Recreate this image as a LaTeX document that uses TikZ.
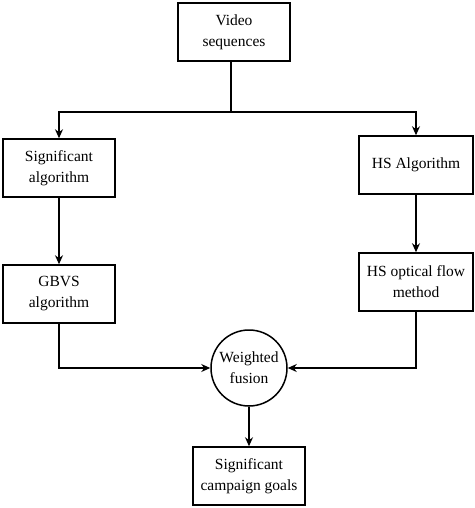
\documentclass[tikz,border=0pt]{standalone}
\usepackage{fontspec}
\setmainfont{Liberation Serif}
\usetikzlibrary{arrows.meta}
\begin{document}
\begin{tikzpicture}[x=1pt,y=-1pt,
  box/.style={draw, line width=1.5pt, minimum width=112pt, minimum height=58pt, inner sep=2pt, align=center, font=\fontsize{15.5}{21}\selectfont},
  circ/.style={draw, circle, line width=1.5pt, minimum size=76pt, inner sep=0pt, align=center, font=\fontsize{15.5}{21}\selectfont},
  conn/.style={line width=1.4pt},
  arr/.style={conn, -{Stealth[length=9pt,width=8pt]}}]
\useasboundingbox (0,0) rectangle (474,508);
\node[box] (video) at (234,32) {Video\\sequences};
\node[box] (sig) at (59,168) {Significant\\algorithm};
\node[box, minimum width=114pt] (hs) at (416,165) {HS Algorithm};
\node[box] (gbvs) at (59,294) {GBVS\\algorithm};
\node[box, minimum width=114pt] (hsof) at (416,282) {HS optical flow\\method};
\node[circ] (wf) at (249,368) {Weighted\\fusion};
\node[box] (goal) at (249,476) {Significant\\campaign goals};
\coordinate (split) at (231,112);
\draw[conn] (video.south -| split) -- (split);
\draw[arr] (split) -| (sig.north);
\draw[arr] (split) -| (hs.north);
\draw[arr] (sig) -- (gbvs);
\draw[arr] (hs) -- (hsof);
\draw[arr] (gbvs.south) |- (wf.west);
\draw[arr] (hsof.south) |- (wf.east);
\draw[arr] (wf) -- (goal);
\end{tikzpicture}
\end{document}
